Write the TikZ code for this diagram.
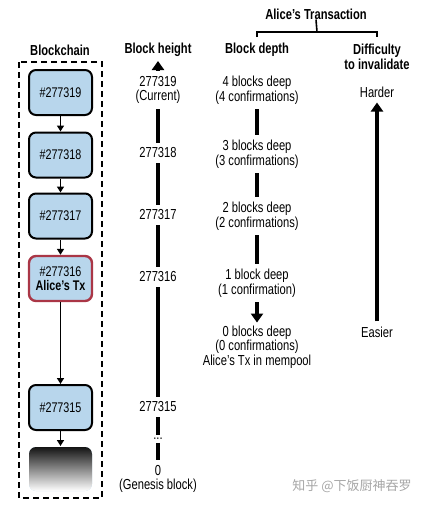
\documentclass[tikz,border=0pt]{standalone}
\usepackage{fontspec}
\setmainfont[FakeStretch=0.77]{Liberation Sans}
\newfontfamily\cjk{Noto Sans CJK SC}
\usetikzlibrary{arrows.meta}
\definecolor{blkblue}{HTML}{B8D6EC}
\definecolor{txred}{HTML}{AA3646}
\tikzset{
  blk/.style={draw=black, line width=2pt, rounded corners=7pt, fill=blkblue,
    minimum width=63pt, minimum height=45pt, align=center, inner sep=0pt,
    font=\fontsize{14}{14.5}\selectfont},
  lbl/.style={align=center, inner sep=5pt, font=\fontsize{14.5}{14.5}\selectfont},
  hdr/.style={align=center, inner sep=0pt, font=\bfseries\fontsize{14.5}{14.5}\selectfont},
  chain/.style={line width=1.8pt, -{Triangle[width=7pt,length=6pt]}},
  bar/.style={line width=3.5pt},
  bigarrow/.style={line width=3.5pt, -{Triangle[width=12pt,length=9pt]}},
}
\begin{document}
\begin{tikzpicture}[x=1pt,y=-1pt]
\useasboundingbox (0,0) rectangle (427,506);
% headers
\node[hdr] (hchain) at (60,50) {Blockchain};
\node[hdr] (hheight) at (158,50) {Block height};
\node[hdr] (hdepth) at (257,50) {Block depth};
\node[hdr] (hdiff) at (377,57) {Difficulty\\to invalidate};
\node[hdr] (htx) at (316,14) {Alice’s Transaction};
\draw[line width=1.6pt] (257,37) -- (257,32) -- (377,32) -- (377,37);
\draw[line width=1.6pt] (317,32) -- (htx.south);
% blockchain frame
\draw[line width=1.5pt, dash pattern=on 6pt off 4pt] (19,62) rectangle (102,498);
% blocks
\node[blk] (b319) at (60.5,92.5) {\#277319};
\node[blk] (b318) at (60.5,155) {\#277318};
\node[blk] (b317) at (60.5,216) {\#277317};
\node[blk, draw=txred, line width=2.4pt] (b316) at (60.5,278.5) {\#277316\\\textbf{Alice’s Tx}};
\node[blk] (b315) at (60.5,407.5) {\#277315};
\node[blk, draw=none, top color=black!92, middle color=black!50, bottom color=white, minimum height=44pt] (bg) at (60.5,469) {};
\draw[chain] (b319) -- (b318);
\draw[chain] (b318) -- (b317);
\draw[chain] (b317) -- (b316);
\draw[chain] (b316) -- (b315);
\draw[chain] (b315) -- (bg);
% block height column
\node[lbl] (h319) at (158,90) {277319\\(Current)};
\coordinate (htop) at (158,61);
\node[lbl] (h318) at (158,153) {277318};
\node[lbl] (h317) at (158,215) {277317};
\node[lbl] (h316) at (158,277) {277316};
\node[lbl] (h315) at (158,407) {277315};
\node[lbl, inner sep=3pt] (hdots) at (158,439) {...};
\node[lbl] (h0) at (158,479) {0\\(Genesis block)};
\draw[bigarrow] (h319.north) -- (htop);
\draw[bar] (h319) -- (h318);
\draw[bar] (h318) -- (h317);
\draw[bar] (h317) -- (h316);
\draw[bar] (h316) -- (h315);
\draw[bar] (h315) -- (hdots);
\draw[bar] (hdots) -- (h0);
% block depth column
\node[lbl] (d4) at (257,90) {4 blocks deep\\(4 confirmations)};
\node[lbl] (d3) at (257,154) {3 blocks deep\\(3 confirmations)};
\node[lbl] (d2) at (257,216) {2 blocks deep\\(2 confirmations)};
\node[lbl] (d1) at (257,283) {1 block deep\\(1 confirmation)};
\node[lbl, inner sep=3pt] (d0) at (257,347) {0 blocks deep\\(0 confirmations)\\Alice’s Tx in mempool};
\draw[bar] (d4) -- (d3);
\draw[bar] (d3) -- (d2);
\draw[bar] (d2) -- (d1);
\draw[bigarrow] (d1) -- (d0);
% difficulty column
\node[lbl] (harder) at (377,92) {Harder};
\node[lbl] (easier) at (377,332) {Easier};
\draw[bigarrow] (easier) -- (harder);
% watermark
\node[inner sep=0pt, text=black!35, font=\cjk\fontsize{13}{13}\selectfont] (wm) at (352,486) {知乎 @下饭厨神吞罗};
\end{tikzpicture}
\end{document}
